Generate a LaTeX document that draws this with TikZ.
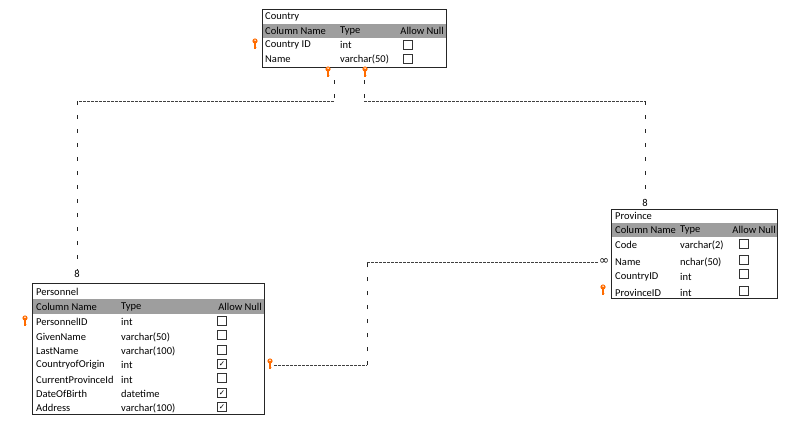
\documentclass[tikz,border=0pt]{standalone}
\usepackage{fontspec}
\setmainfont{Carlito}
\newfontfamily\symf{DejaVu Sans}
\tikzset{
 x=1pt,y=-1pt,
 txt/.style={anchor=west,inner sep=0pt,font=\fontsize{10.5}{11}\selectfont},
 tbl/.style={draw=black!85,line width=1.1pt},
 hdr/.style={fill=black!38,draw=none},
 cb/.style={draw=black!80,line width=0.6pt,minimum size=8.5pt,inner sep=0pt},
 rel/.style={draw=black!75,line width=0.5pt,dash pattern=on 3pt off 1pt},
 vrel/.style={draw=black!85,line width=0.7pt,dash pattern=on 4pt off 10pt},
 lbl/.style={inner sep=0pt,font=\fontsize{10.5}{11}\selectfont}
}
\newcommand{\keyicon}[2]{%
 \fill[orange!85!red] (#1,#2-2) circle (2.6pt);
 \fill[white] (#1,#2-2.8) circle (0.8pt);
 \fill[orange!85!red] (#1-0.8,#2) rectangle (#1+0.8,#2+6);
 \fill[orange!85!red] (#1,#2+4) -- (#1+1.8,#2+4.5) -- (#1,#2+5);}
\newcommand{\chk}[1]{\node[cb,font=\symf\bfseries\fontsize{7.5}{7.5}\selectfont] at (#1) {✓};}
\begin{document}
\begin{tikzpicture}
\useasboundingbox (0,0) rectangle (800,429);
\fill[white] (0,0) rectangle (800,429);
% ---------- Country
\fill[hdr] (262,24) rectangle (446,38);
\node[tbl,minimum width=184pt,minimum height=58pt,anchor=north west,inner sep=0pt] (country) at (262,9) {};
\node[txt] at (265,17) {Country};
\node[txt] at (265,31) {Column Name};
\node[txt] at (340,31) {Type};
\node[txt,anchor=east] at (444,31) {Allow Null};
\node[txt] at (265,45) {Country ID};\node[txt] at (340,45) {int};\node[cb] at (408,45) {};
\node[txt] at (265,59) {Name};\node[txt] at (340,59) {varchar(50)};\node[cb] at (408,59) {};
\keyicon{255}{43}
% ---------- Province
\fill[hdr] (611,223) rectangle (777,237);
\node[tbl,minimum width=166pt,minimum height=89pt,anchor=north west,inner sep=0pt] (province) at (611,209) {};
\node[txt] at (615,216) {Province};
\node[txt] at (615,230) {Column Name};
\node[txt] at (680,230) {Type};
\node[txt,anchor=east] at (776,230) {Allow Null};
\node[txt] at (615,245) {Code};\node[txt] at (680,245) {varchar(2)};\node[cb] at (744,244) {};
\node[txt] at (615,262) {Name};\node[txt] at (680,262) {nchar(50)};\node[cb] at (744,260) {};
\node[txt] at (615,277) {CountryID};\node[txt] at (680,277) {int};\node[cb] at (744,274) {};
\node[txt] at (615,293) {ProvinceID};\node[txt] at (680,293) {int};\node[cb] at (744,291) {};
\keyicon{603}{289}
% ---------- Personnel
\fill[hdr] (32,299) rectangle (264,314);
\node[tbl,minimum width=232pt,minimum height=131pt,anchor=north west,inner sep=0pt] (personnel) at (32,283) {};
\node[txt] at (36,292) {Personnel};
\node[txt] at (36,307) {Column Name};
\node[txt] at (121,307) {Type};
\node[txt,anchor=east] at (262,307) {Allow Null};
\node[txt] at (36,322) {PersonnelID};\node[txt] at (121,322) {int};\node[cb] at (222,321) {};
\node[txt] at (36,337) {GivenName};\node[txt] at (121,337) {varchar(50)};\node[cb] at (222,335) {};
\node[txt] at (36,351) {LastName};\node[txt] at (121,351) {varchar(100)};\node[cb] at (222,350) {};
\node[txt] at (36,365) {CountryofOrigin};\node[txt] at (121,365) {int};\coordinate (c1) at (222,364);\chk{c1}
\node[txt] at (36,380) {CurrentProvinceId};\node[txt] at (121,380) {int};\node[cb] at (222,378) {};
\node[txt] at (36,394) {DateOfBirth};\node[txt] at (121,394) {datetime};\coordinate (c2) at (222,393);\chk{c2}
\node[txt] at (36,408) {Address};\node[txt] at (121,408) {varchar(100)};\coordinate (c3) at (222,407);\chk{c3}
\keyicon{25}{320}
% ---------- relationships
\keyicon{328}{71}\keyicon{365}{71}\keyicon{270}{363}
\coordinate (k1) at (334,80);
\coordinate (k2) at (364,80);
\coordinate (k3) at (274,365);
\coordinate (a1) at (334,101);\coordinate (a2) at (77,101);
\coordinate (b1) at (364,101);\coordinate (b2) at (645,101);
\node[lbl] (n1) at (77,274) {8};
\node[lbl] (n2) at (645,203) {8};
\coordinate (d1) at (367,365);\coordinate (d2) at (367,262);
\node[lbl,font=\symf\fontsize{12}{12}\selectfont] (inf) at (604,262) {∞};
\draw[vrel] (k1) -- (a1);
\draw[rel] (a1) -- (a2);
\draw[vrel] (a2) -- (n1.north);
\draw[vrel] (k2) -- (b1);
\draw[rel] (b1) -- (b2);
\draw[vrel] (b2) -- (n2.north);
\draw[rel] (k3) -- (d1);
\draw[vrel] (d1) -- (d2);
\draw[rel] (d2) -- (inf.west);
\end{tikzpicture}
\end{document}
